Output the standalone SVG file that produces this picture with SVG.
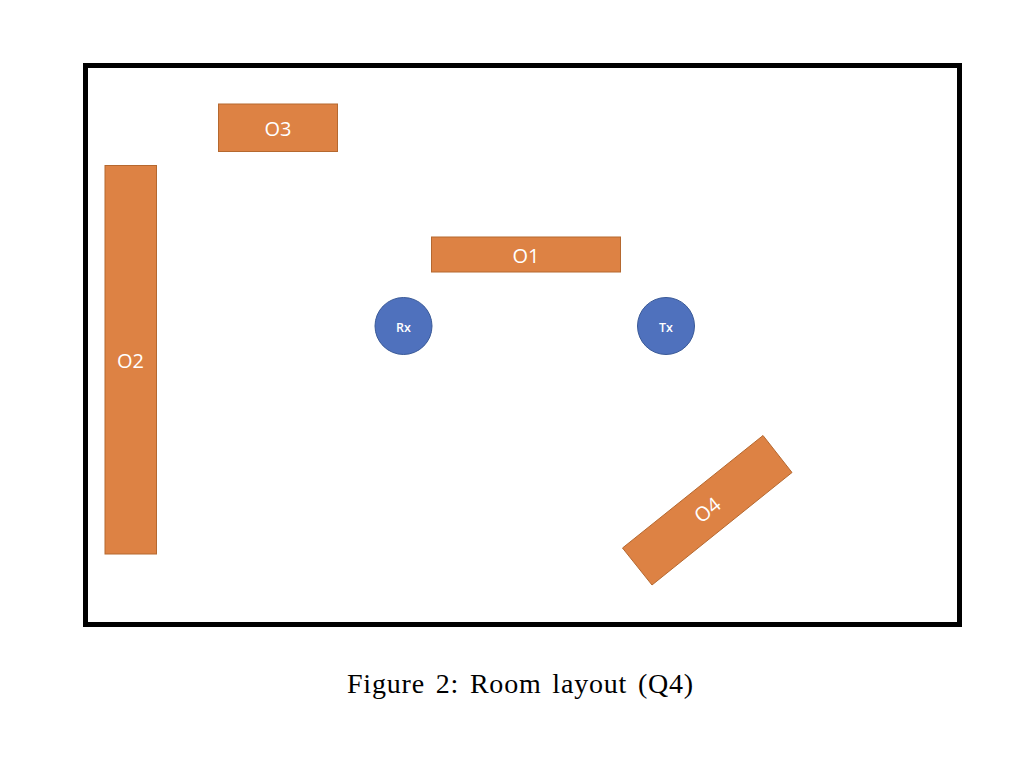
<svg xmlns="http://www.w3.org/2000/svg" width="1024" height="772" viewBox="0 0 1024 772">
<style>
.o{fill:#dd8244;stroke:#b5682f;stroke-width:1}
.c{fill:#4f71bd;stroke:#3a5a98;stroke-width:1}
.l{fill:#fff;font-family:"Open Sans","Noto Sans",sans-serif;text-anchor:middle}
.big{font-size:20px;font-weight:500}
.small{font-size:12.5px;font-weight:600}
</style>
<rect width="1024" height="772" fill="#fff"/>
<rect id="room" x="85.5" y="65.5" width="874" height="559" fill="#fff" stroke="#000" stroke-width="5"/>
<g id="O3"><rect class="o" x="218.500" y="104" width="119" height="47.500"/><text class="l big" x="278" y="135.500">O3</text></g>
<g id="O2"><rect class="o" x="105" y="165.500" width="51.500" height="388.500"/><text class="l big" x="130.500" y="367.500">O2</text></g>
<g id="O1"><rect class="o" x="431.500" y="237" width="189" height="35"/><text class="l big" x="526" y="262.500">O1</text></g>
<g id="Rx"><circle class="c" cx="403.500" cy="326" r="28.500"/><text class="l small" x="403.500" y="331.500">Rx</text></g>
<g id="Tx"><circle class="c" cx="666" cy="326" r="28.500"/><text class="l small" x="666" y="331.500">Tx</text></g>
<g id="O4"><polygon class="o" points="763,435.500 792,472.500 652,585 622.500,548"/><text class="l big" transform="translate(707.500,510) rotate(-38.800)" x="0" y="7">O4</text></g>
<text id="caption" x="347" y="693" font-family="'Liberation Serif',serif" font-size="28" letter-spacing="0.8" word-spacing="3" fill="#000">Figure 2: Room layout (Q4)</text>
</svg>
